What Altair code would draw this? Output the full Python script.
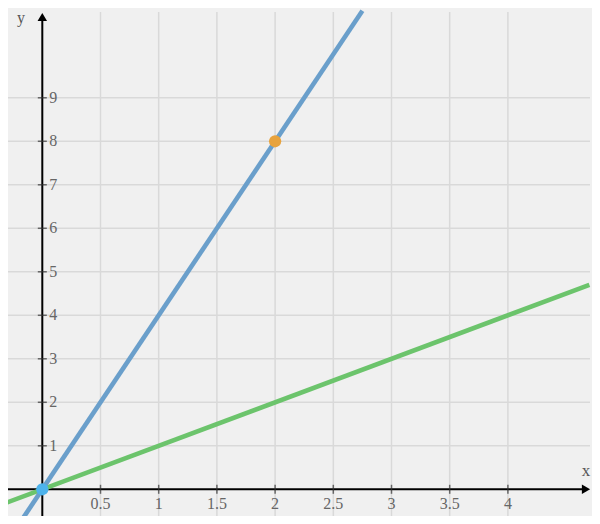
import altair as alt
import pandas as pd

# ---- data ----
blue_x = [-0.2, 2.75]
blue_y = [-0.8, 11.0]
green_x = [-0.36, 4.7]
green_y = [-0.36, 4.7]

point_x = [2, 0]
point_y = [8, 0]
point_name = ["A", "O"]

x_ticks = [0.5, 1, 1.5, 2, 2.5, 3, 3.5, 4]
x_labels = ["0.5", "1", "1.5", "2", "2.5", "3", "3.5", "4"]
y_ticks = [1, 2, 3, 4, 5, 6, 7, 8, 9]
y_labels = ["1", "2", "3", "4", "5", "6", "7", "8", "9"]

W, H = 584, 508
XDOM = [-0.2947, 4.7225]
YDOM = [-0.614, 11.064]

xs = alt.Scale(domain=XDOM, nice=False, zero=False)
ys = alt.Scale(domain=YDOM, nice=False, zero=False)

FONT = "Liberation Serif"
GRID = "#d9d9d9"

xt = pd.DataFrame({"x": x_ticks, "label": x_labels, "y": [0] * len(x_ticks)})
yt = pd.DataFrame({"y": y_ticks, "label": y_labels, "x": [0] * len(y_ticks)})
blue = pd.DataFrame({"x": blue_x, "y": blue_y})
green = pd.DataFrame({"x": green_x, "y": green_y})
pts = pd.DataFrame({"x": point_x, "y": point_y, "name": point_name})
origin = pd.DataFrame({"x": [0], "y": [0]})

X = lambda f: alt.X(f, type="quantitative", scale=xs, axis=None)
Y = lambda f: alt.Y(f, type="quantitative", scale=ys, axis=None)

vgrid = alt.Chart(xt).mark_rule(color=GRID, strokeWidth=1.5).encode(
    x=X("x"), y=alt.value(4), y2=alt.value(H)
)
hgrid = alt.Chart(yt).mark_rule(color=GRID, strokeWidth=1.5).encode(
    y=Y("y"), x=alt.value(0), x2=alt.value(582)
)

xaxis = alt.Chart(origin).mark_rule(color="black", strokeWidth=2).encode(
    y=Y("y"), x=alt.value(0), x2=alt.value(576)
)
yaxis = alt.Chart(origin).mark_rule(color="black", strokeWidth=2).encode(
    x=X("x"), y=alt.value(9), y2=alt.value(H)
)
xarrow = alt.Chart(origin).mark_point(
    shape="triangle-right", filled=True, size=90, color="black", opacity=1
).encode(y=Y("y"), x=alt.value(578))
yarrow = alt.Chart(origin).mark_point(
    shape="triangle-up", filled=True, size=90, color="black", opacity=1
).encode(x=X("x"), y=alt.value(9))

xticks = alt.Chart(xt).mark_tick(orient="vertical", size=9, thickness=1.5, color="#333").encode(
    x=X("x"), y=Y("y")
)
yticks = alt.Chart(yt).mark_tick(orient="horizontal", size=9, thickness=1.5, color="#333").encode(
    y=Y("y"), x=X("x")
)

xlab = alt.Chart(xt).mark_text(
    font=FONT, fontSize=16, color="#666", align="center", baseline="middle", dy=15
).encode(x=X("x"), y=Y("y"), text="label:N")
ylab = alt.Chart(yt).mark_text(
    font=FONT, fontSize=16, color="#666", align="left", baseline="middle", dx=7
).encode(y=Y("y"), x=X("x"), text="label:N")

blue_line = alt.Chart(blue).mark_line(color="#6a9fcb", strokeWidth=4.6, clip=True).encode(
    x=X("x"), y=Y("y")
)
green_line = alt.Chart(green).mark_line(color="#6cc46c", strokeWidth=4.6, clip=True).encode(
    x=X("x"), y=Y("y")
)

points = alt.Chart(pts).mark_circle(opacity=1, size=150).encode(
    x=X("x"), y=Y("y"),
    color=alt.Color("name:N", scale=alt.Scale(domain=["A", "O"], range=["#e8a33d", "#4db3ec"]), legend=None),
)

xtitle = alt.Chart(pd.DataFrame({"t": ["x"]})).mark_text(
    font=FONT, fontSize=17, color="#555", align="center", baseline="middle"
).encode(x=alt.value(578), y=alt.value(463), text="t:N")
ytitle = alt.Chart(pd.DataFrame({"t": ["y"]})).mark_text(
    font=FONT, fontSize=16, color="#555", align="center", baseline="alphabetic"
).encode(x=alt.value(13), y=alt.value(15), text="t:N")

chart = alt.layer(
    vgrid, hgrid, xaxis, yaxis, xarrow, yarrow, xticks, yticks, xlab, ylab,
    green_line, blue_line, points, xtitle, ytitle
).properties(
    width=W, height=H, padding=0, autosize=alt.AutoSizeParams(type="none"),
    background="#f0f0f0",
).configure_view(stroke=None, fill="#f0f0f0")

chart.save("out.html", embed_options={"renderer": "svg", "actions": False})
